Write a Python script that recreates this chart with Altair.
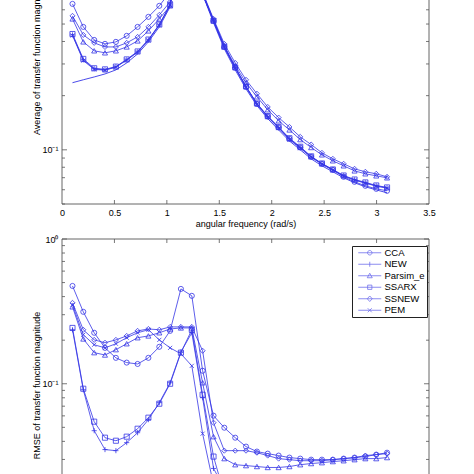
import altair as alt
import pandas as pd

# ---------------- data ----------------
freq = [0.100, 0.203, 0.307, 0.410, 0.514, 0.617, 0.721, 0.824, 0.928, 1.031,
        1.134, 1.238, 1.341, 1.445, 1.548, 1.652, 1.755, 1.859, 1.962, 2.066,
        2.169, 2.272, 2.376, 2.479, 2.583, 2.686, 2.790, 2.893, 2.997, 3.100]
methods = ["CCA", "NEW", "Parsim_e", "SSARX", "SSNEW", "PEM"]

# average of transfer function magnitude (upper panel)
avg_cca = [0.647, 0.482, 0.408, 0.388, 0.398, 0.430, 0.482, 0.548, 0.631, 0.755,
           1.6, 1.9, 0.736, 0.521, 0.373, 0.286, 0.224, 0.180, 0.153, 0.133,
           0.115, 0.103, 0.0914, 0.0836, 0.0774, 0.0708, 0.0664, 0.0631, 0.0607, 0.0592]
avg_new = [0.435, 0.316, 0.282, 0.278, 0.289, 0.316, 0.350, 0.408, 0.495, 0.639,
           1.5, 1.8, 0.736, 0.521, 0.373, 0.286, 0.224, 0.180, 0.153, 0.133,
           0.115, 0.103, 0.0914, 0.0836, 0.0774, 0.0717, 0.0681, 0.0656, 0.0631, 0.0615]
avg_parsim = [0.534, 0.398, 0.355, 0.346, 0.355, 0.373, 0.403, 0.458, 0.534, 0.631,
              1.6, 1.9, 0.745, 0.527, 0.378, 0.293, 0.236, 0.197, 0.167, 0.145,
              0.129, 0.114, 0.103, 0.0938, 0.0869, 0.0815, 0.0764, 0.0736, 0.0717, 0.0699]
avg_ssarx = [0.440, 0.320, 0.284, 0.280, 0.290, 0.318, 0.352, 0.410, 0.497, 0.640,
             1.5, 1.8, 0.736, 0.521, 0.374, 0.287, 0.225, 0.181, 0.154, 0.134,
             0.116, 0.104, 0.0920, 0.0840, 0.0778, 0.0720, 0.0684, 0.0659, 0.0634, 0.0618]
avg_ssnew = [0.555, 0.435, 0.393, 0.373, 0.373, 0.393, 0.424, 0.482, 0.562, 0.664,
             1.7, 2.0, 0.750, 0.534, 0.388, 0.304, 0.245, 0.205, 0.173, 0.151,
             0.134, 0.118, 0.107, 0.0962, 0.0891, 0.0836, 0.0784, 0.0755, 0.0736, 0.0708]
avg_pem = [0.432, 0.313, 0.280, 0.277, 0.288, 0.315, 0.349, 0.406, 0.493, 0.637,
           1.5, 1.8, 0.736, 0.521, 0.372, 0.285, 0.223, 0.179, 0.152, 0.132,
           0.114, 0.102, 0.0910, 0.0832, 0.0770, 0.0714, 0.0678, 0.0653, 0.0628, 0.0612]
avg_true = [0.236, 0.245, 0.254, 0.264, 0.278, 0.304, 0.341, 0.398, 0.482, 0.623,
            1.5, 1.8, 0.730, 0.508, 0.364, 0.278, 0.218, 0.176, 0.149, 0.129,
            0.112, 0.100, 0.0891, 0.0815, 0.0755, 0.0699, 0.0656, 0.0623, 0.0599, 0.0577]

# RMSE of transfer function magnitude (lower panel)
rmse_cca = [0.474, 0.314, 0.225, 0.177, 0.151, 0.140, 0.137, 0.151, 0.180, 0.232,
            0.452, 0.405, 0.123, 0.0602, 0.0497, 0.0424, 0.0368, 0.0340, 0.0329, 0.0319,
            0.0309, 0.0304, 0.0299, 0.0299, 0.0299, 0.0304, 0.0309, 0.0314, 0.0324, 0.0334]
rmse_new = [0.236, 0.0909, 0.0474, 0.0351, 0.0345, 0.0392, 0.0459, 0.0565, 0.0740, 0.1016,
            0.166, 0.225, 0.0801, 0.0260, 0.0190, 0.0180, 0.0178, 0.0175, 0.0172, 0.0170,
            0.0170, 0.0170, 0.0171, 0.0172, 0.0173, 0.0175, 0.0177, 0.0179, 0.0181, 0.0183]
rmse_parsim = [0.340, 0.204, 0.164, 0.158, 0.172, 0.189, 0.208, 0.214, 0.225, 0.239,
               0.243, 0.243, 0.1016, 0.0431, 0.0304, 0.0276, 0.0272, 0.0268, 0.0264, 0.0264,
               0.0268, 0.0276, 0.0281, 0.0285, 0.0290, 0.0294, 0.0299, 0.0304, 0.0304, 0.0309]
rmse_ssarx = [0.243, 0.0924, 0.0547, 0.0424, 0.0404, 0.0431, 0.0489, 0.0583, 0.0728, 0.100,
              0.164, 0.236, 0.0840, 0.0314, 0.0172, 0.0165, 0.0163, 0.0162, 0.0161, 0.0160,
              0.0160, 0.0161, 0.0162, 0.0163, 0.0165, 0.0167, 0.0169, 0.0171, 0.0173, 0.0175]
rmse_ssnew = [0.362, 0.236, 0.201, 0.192, 0.201, 0.214, 0.232, 0.239, 0.236, 0.247,
              0.247, 0.247, 0.169, 0.0538, 0.0345, 0.0345, 0.0345, 0.0334, 0.0319, 0.0304,
              0.0299, 0.0294, 0.0294, 0.0294, 0.0299, 0.0304, 0.0309, 0.0319, 0.0324, 0.0329]
rmse_pem = [0.351, 0.218, 0.186, 0.177, 0.189, 0.208, 0.225, 0.236, 0.201, 0.177,
            0.161, 0.133, 0.0452, 0.0201, 0.0175, 0.0170, 0.0168, 0.0166, 0.0165, 0.0164,
            0.0164, 0.0165, 0.0166, 0.0167, 0.0168, 0.0170, 0.0172, 0.0174, 0.0176, 0.0178]

x_tick_values = [0, 0.5, 1, 1.5, 2, 2.5, 3, 3.5]
x_inner_ticks = [0.5, 1, 1.5, 2, 2.5, 3]
top_major = [0.1]
top_minor = [0.05, 0.06, 0.07, 0.08, 0.09, 0.2, 0.3, 0.4, 0.5, 0.6]
bot_major = [0.1, 1.0]
bot_minor = [0.03, 0.04, 0.05, 0.06, 0.07, 0.08, 0.09, 0.2, 0.3, 0.4, 0.5, 0.6, 0.7, 0.8, 0.9]

avg = {"CCA": avg_cca, "NEW": avg_new, "Parsim_e": avg_parsim,
       "SSARX": avg_ssarx, "SSNEW": avg_ssnew, "PEM": avg_pem}
rmse = {"CCA": rmse_cca, "NEW": rmse_new, "Parsim_e": rmse_parsim,
        "SSARX": rmse_ssarx, "SSNEW": rmse_ssnew, "PEM": rmse_pem}


def long(d):
    rows = []
    for m in methods:
        for xv, v in zip(freq, d[m]):
            rows.append({"x": xv, "method": m, "value": v})
    return pd.DataFrame(rows)


top_df = long(avg)
bot_df = long(rmse)
true_df = pd.DataFrame({"x": freq, "value": avg_true})

# ---------------- style ----------------
BLUE = "#3535e6"
FRAME = "#555555"
FONT = "Liberation Sans"
W, H = 367, 474
TOP_B = 204
BOT_T = 239

marker_shapes = ["circle", "M-1,0H1M0,-1V1", "triangle-up", "square", "diamond",
                 "M-0.8,-0.8L0.8,0.8M-0.8,0.8L0.8,-0.8"]
legend_shapes = [
    "M-4.6,0H4.6M0.9,0A0.9,0.9,0,1,1,-0.9,0A0.9,0.9,0,1,1,0.9,0",
    "M-4.6,0H4.6M0,-1V1",
    "M-4.6,0H4.6M0,-1L1,0.8L-1,0.8Z",
    "M-4.6,0H4.6M-0.85,-0.85H0.85V0.85H-0.85Z",
    "M-4.6,0H4.6M0,-1.1L1,0L0,1.1L-1,0Z",
    "M-4.6,0H4.6M-0.8,-0.8L0.8,0.8M-0.8,0.8L0.8,-0.8",
]

xs = alt.Scale(domain=[0, 3.5], nice=False, zero=False)
ys_top = alt.Scale(type="log", domain=[0.05, 0.68], range=[TOP_B, 0], nice=False)
ys_bot = alt.Scale(type="log", domain=[0.0238, 1.0], range=[H, BOT_T], nice=False)


def yticks(vals, scale, x0, x1):
    return alt.Chart(pd.DataFrame({"v": vals})).mark_rule(
        color=FRAME, strokeWidth=0.8).encode(
        y=alt.Y("v:Q", scale=scale, axis=None),
        x=alt.value(x0), x2=alt.value(x1))


def panel(df, yscale, yaxis, xaxis, majors, minors, extra=None):
    lines = alt.Chart(df).mark_line(color=BLUE, strokeWidth=0.8).encode(
        x=alt.X("x:Q", scale=xs, axis=xaxis),
        y=alt.Y("value:Q", scale=yscale, axis=yaxis),
        detail="method:N")
    pts = alt.Chart(df).mark_point(filled=False, color=BLUE, size=26,
                                   strokeWidth=0.8, opacity=1).encode(
        x=alt.X("x:Q", scale=xs, axis=None),
        y=alt.Y("value:Q", scale=yscale, axis=None),
        shape=alt.Shape("method:N",
                        scale=alt.Scale(domain=methods, range=marker_shapes),
                        legend=None))
    layers = [lines, pts]
    if extra is not None:
        layers.append(extra)
    layers += [yticks(majors, yscale, 0, 5), yticks(minors, yscale, 0, 3),
               yticks(majors, yscale, W, W - 5), yticks(minors, yscale, W, W - 3)]
    return alt.layer(*layers).resolve_axis(x="independent", y="independent")


top_yaxis = alt.Axis(values=top_major, labelExpr="'10\u207b\u00b9'", tickSize=0,
                     domain=False, grid=False, labelFont=FONT, labelFontSize=9,
                     labelColor="black", labelPadding=4,
                     title="Average of transfer function magnitude",
                     titleFont=FONT, titleFontSize=9, titleFontWeight="normal",
                     titleColor="black", titleX=-26, titleY=57, titleAngle=270,
                     titleBaseline="middle", titleAlign="center")
top_xaxis = alt.Axis(values=x_tick_values, format="~g", orient="bottom",
                     offset=TOP_B - H, tickSize=0, domain=False, grid=False,
                     labelFont=FONT, labelFontSize=9, labelColor="black",
                     labelPadding=4, labelFlush=False, labelOverlap=False,
                     title="angular frequency (rad/s)", titleFont=FONT,
                     titleFontSize=9, titleFontWeight="normal", titleColor="black",
                     titlePadding=2)
bot_yaxis = alt.Axis(values=bot_major,
                     labelExpr="datum.value >= 1 ? '10\u2070' : '10\u207b\u00b9'",
                     orient="left", tickSize=0, domain=False, grid=False,
                     labelFont=FONT, labelFontSize=9, labelColor="black",
                     labelPadding=4,
                     title="RMSE of transfer function magnitude",
                     titleFont=FONT, titleFontSize=9, titleFontWeight="normal",
                     titleColor="black", titleX=-26, titleY=385, titleAngle=270,
                     titleBaseline="middle", titleAlign="center")

true_line = alt.Chart(true_df).mark_line(color=BLUE, strokeWidth=0.9).encode(
    x=alt.X("x:Q", scale=xs, axis=None),
    y=alt.Y("value:Q", scale=ys_top, axis=None))

top = panel(top_df, ys_top, top_yaxis, top_xaxis, top_major, top_minor, true_line)
bot = panel(bot_df, ys_bot, bot_yaxis, None, bot_major, bot_minor)

xt_df = pd.DataFrame({"v": x_inner_ticks})
xt_top = alt.Chart(xt_df).mark_rule(color=FRAME, strokeWidth=0.8).encode(
    x=alt.X("v:Q", scale=xs, axis=None), y=alt.value(TOP_B), y2=alt.value(TOP_B - 4))
xt_bot = alt.Chart(xt_df).mark_rule(color=FRAME, strokeWidth=0.8).encode(
    x=alt.X("v:Q", scale=xs, axis=None), y=alt.value(BOT_T), y2=alt.value(BOT_T + 4))

frame_top = alt.Chart(pd.DataFrame({"a": [0]})).mark_rect(
    fill="transparent", stroke=FRAME, strokeWidth=0.9).encode(
    x=alt.value(0), x2=alt.value(W), y=alt.value(-6), y2=alt.value(TOP_B))
frame_bot = alt.Chart(pd.DataFrame({"a": [0]})).mark_rect(
    fill="transparent", stroke=FRAME, strokeWidth=0.9).encode(
    x=alt.value(0), x2=alt.value(W), y=alt.value(BOT_T), y2=alt.value(H + 10))

leg = alt.Chart(pd.DataFrame({"method": methods})).mark_point(
    filled=False, color=BLUE, size=25, strokeWidth=0.8).encode(
    x=alt.value(-300), y=alt.value(-300),
    shape=alt.Shape("method:N",
                    scale=alt.Scale(domain=methods, range=legend_shapes),
                    legend=alt.Legend(orient="none", legendX=290, legendY=246,
                                      title=None, strokeColor="#222222",
                                      fillColor="white", padding=2,
                                      symbolSize=25, symbolStrokeWidth=0.8,
                                      symbolStrokeColor=BLUE,
                                      symbolFillColor="transparent",
                                      symbolOffset=11, labelOffset=10,
                                      labelFont=FONT, labelFontSize=9.5,
                                      labelColor="black", rowPadding=0.5,
                                      cornerRadius=0)))

chart = alt.layer(top, bot, xt_top, xt_bot, frame_top, frame_bot, leg).resolve_scale(
    y="independent", shape="independent").resolve_axis(
    x="independent", y="independent").properties(
    width=W, height=H,
    padding={"left": 62, "top": 0, "right": 45, "bottom": 0},
    autosize=alt.AutoSizeParams(type="none"),
    background="white").configure_view(stroke=None)

chart.save("out.html", embed_options={"renderer": "svg", "actions": False})
